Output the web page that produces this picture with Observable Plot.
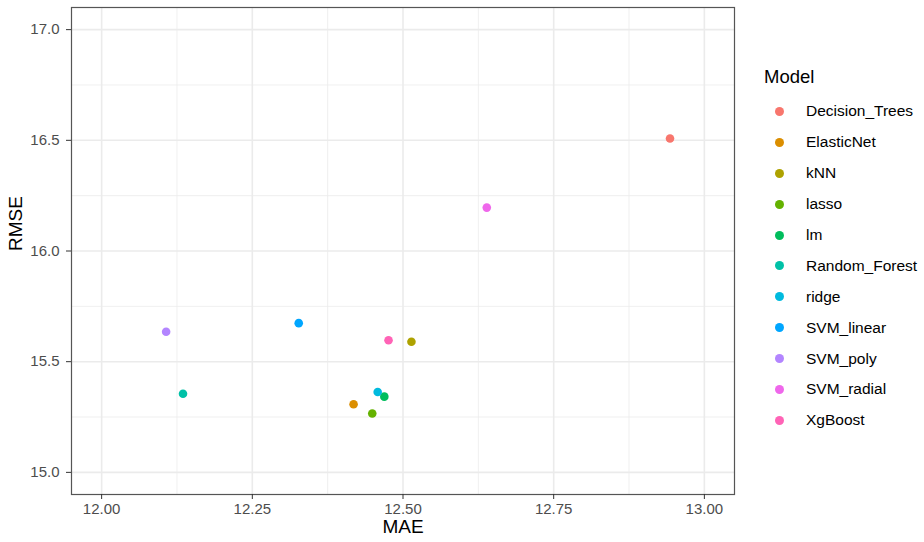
<!DOCTYPE html>
<html><head><meta charset="utf-8">
<script src="https://cdn.jsdelivr.net/npm/d3@7"></script>
<script src="https://cdn.jsdelivr.net/npm/@observablehq/plot@0.6"></script>
<style>
body{margin:0;background:#fff;font-family:"Liberation Sans",Arial,sans-serif}
#wrap{position:relative;width:924px;height:542px;background:#fff}
#legend{position:absolute;left:764px;top:65px;color:#000}
#legend .title{font-size:18.5px;line-height:24px;margin-bottom:7px}
#legend .row{display:flex;align-items:center;height:30.9px;font-size:15.5px}
#legend .sw{width:9px;height:9px;border-radius:50%;margin-left:11px;margin-right:22px}
</style></head><body><div id="wrap"></div>
<script>
const models = ["Decision_Trees","ElasticNet","kNN","lasso","lm","Random_Forest","ridge","SVM_linear","SVM_poly","SVM_radial","XgBoost"];
const mae  = [12.943, 12.418, 12.514, 12.449, 12.469, 12.135, 12.458, 12.327, 12.107, 12.639, 12.476];
const rmse = [16.508, 15.308, 15.590, 15.266, 15.342, 15.355, 15.363, 15.674, 15.635, 16.196, 15.597];
const colors = ["#F8766D","#DB8E00","#AEA200","#64B200","#00BD5C","#00C1A7","#00BADE","#00A6FF","#B385FF","#EF67EB","#FF63B6"];
const xTicks = [12, 12.25, 12.5, 12.75, 13];
const yTicks = [15, 15.5, 16, 16.5, 17];
const xMinor = [12.125, 12.375, 12.625, 12.875];
const yMinor = [15.25, 15.75, 16.25, 16.75];

const data = models.map((m, i) => ({model: m, mae: mae[i], rmse: rmse[i]}));

const chart = Plot.plot({
  width: 924, height: 542,
  marginLeft: 71, marginRight: 190, marginTop: 7, marginBottom: 48,
  style: {fontFamily: '"Liberation Sans", Arial, sans-serif', background: "white", overflow: "visible"},
  x: {domain: [11.95, 13.05]},
  y: {domain: [14.9, 17.1]},
  color: {domain: models, range: colors},
  marks: [
    Plot.ruleX(xMinor, {stroke: "#ebebeb", strokeWidth: 0.8}),
    Plot.ruleY(yMinor, {stroke: "#ebebeb", strokeWidth: 0.8}),
    Plot.ruleX(xTicks, {stroke: "#ebebeb", strokeWidth: 1.6}),
    Plot.ruleY(yTicks, {stroke: "#ebebeb", strokeWidth: 1.6}),
    Plot.dot(data, {x: "mae", y: "rmse", fill: "model", r: 4.3}),
    Plot.frame({stroke: "#555", strokeWidth: 1.2}),
    Plot.axisX({ticks: xTicks, tickFormat: d3.format(".2f"), tickSize: 5, tickPadding: 4, fontSize: 15, stroke: "#333", fill: "#4d4d4d", label: null}),
    Plot.axisY({ticks: yTicks, tickFormat: d3.format(".1f"), tickSize: 5, tickPadding: 7, fontSize: 15, stroke: "#333", fill: "#4d4d4d", label: null}),
    Plot.text(["MAE"], {text: d => d, frameAnchor: "bottom", dy: 38, fontSize: 19, fill: "#000"}),
    Plot.text(["RMSE"], {text: d => d, frameAnchor: "left", dx: -56, rotate: -90, fontSize: 19, fill: "#000"})
  ]
});
const wrap = document.getElementById("wrap");
wrap.appendChild(chart);

const legend = document.createElement("div");
legend.id = "legend";
const t = document.createElement("div");
t.className = "title";
t.textContent = "Model";
legend.appendChild(t);
models.forEach((m, i) => {
  const row = document.createElement("div");
  row.className = "row";
  const sw = document.createElement("span");
  sw.className = "sw";
  sw.style.background = colors[i];
  const lab = document.createElement("span");
  lab.textContent = m;
  row.appendChild(sw);
  row.appendChild(lab);
  legend.appendChild(row);
});
wrap.appendChild(legend);
</script></body></html>
